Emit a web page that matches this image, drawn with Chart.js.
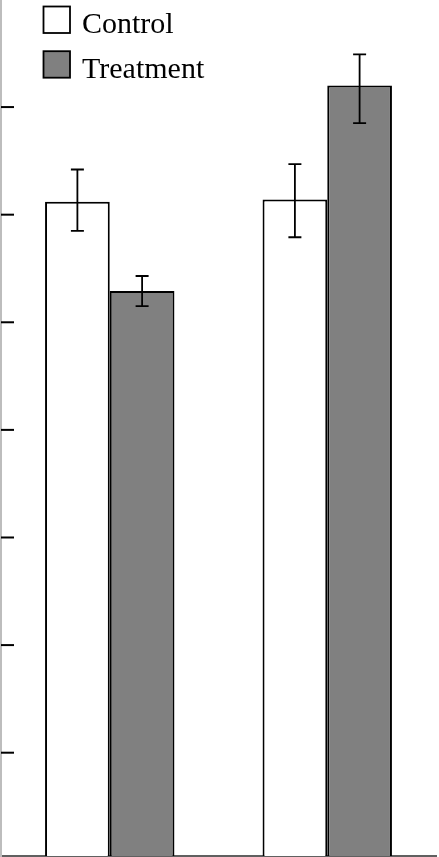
<!DOCTYPE html>
<html>
<head>
<meta charset="utf-8">
<script src="https://cdn.jsdelivr.net/npm/chart.js@4.4.1/dist/chart.umd.min.js"></script>
<style>
  html, body { margin: 0; padding: 0; background: #fff; overflow: hidden; }
  #wrap { position: relative; width: 439px; height: 857px; }
</style>
</head>
<body>
<div id="wrap"><canvas id="chart"></canvas></div>
<script>
// values
const groups = ['Group 1', 'Group 2'];
const seriesNames = ['Control', 'Treatment'];
const controlMeans = [6.12, 6.14];
const controlLow = [5.85, 5.79];
const controlHigh = [6.42, 6.47];
const treatmentMeans = [5.29, 7.20];
const treatmentLow = [5.15, 6.85];
const treatmentHigh = [5.43, 7.49];

const errorBars = [
  { low: controlLow, high: controlHigh },
  { low: treatmentLow, high: treatmentHigh },
];

// error bars with small caps, drawn through the y scale
const errorBarPlugin = {
  id: 'errorBars',
  afterDatasetsDraw: (ch) => {
    const { ctx } = ch;
    const yScale = ch.scales.y;
    ctx.save();
    ctx.strokeStyle = '#000';
    ctx.lineWidth = 1.8;
    ch.data.datasets.forEach((ds, di) => {
      const meta = ch.getDatasetMeta(di);
      meta.data.forEach((bar, i) => {
        const yLo = yScale.getPixelForValue(errorBars[di].low[i]);
        const yHi = yScale.getPixelForValue(errorBars[di].high[i]);
        const cap = 6.5;
        ctx.beginPath();
        ctx.moveTo(bar.x, yLo);
        ctx.lineTo(bar.x, yHi);
        ctx.moveTo(bar.x - cap, yLo);
        ctx.lineTo(bar.x + cap, yLo);
        ctx.moveTo(bar.x - cap, yHi);
        ctx.lineTo(bar.x + cap, yHi);
        ctx.stroke();
      });
    });
    ctx.restore();
  },
};

// inward tick marks on the left axis
const innerTicksPlugin = {
  id: 'innerTicks',
  afterDraw: (ch) => {
    const { ctx, chartArea } = ch;
    const yScale = ch.scales.y;
    ctx.save();
    ctx.strokeStyle = '#000';
    ctx.lineWidth = 2;
    yScale.ticks.forEach((t) => {
      const y = yScale.getPixelForValue(t.value);
      if (y < chartArea.top + 2 || y > chartArea.bottom - 2) return;
      ctx.beginPath();
      ctx.moveTo(chartArea.left, y);
      ctx.lineTo(chartArea.left + 13, y);
      ctx.stroke();
    });
    ctx.restore();
  },
};

// vertical legend in the top-left corner
const boxLegendPlugin = {
  id: 'boxLegend',
  afterDraw: (ch) => {
    const { ctx } = ch;
    ctx.save();
    ctx.font = '30px "Liberation Serif", "Times New Roman", serif';
    ctx.textBaseline = 'alphabetic';
    ch.data.datasets.forEach((ds, i) => {
      const top = 6.5 + i * 44.7;
      ctx.fillStyle = ds.backgroundColor;
      ctx.fillRect(43.5, top, 26.5, 26.5);
      ctx.strokeStyle = '#000';
      ctx.lineWidth = 1.8;
      ctx.strokeRect(43.5, top, 26.5, 26.5);
      ctx.fillStyle = '#000';
      ctx.fillText(ds.label, 82, top + 26.8);
    });
    ctx.restore();
  },
};

// eslint-disable-next-line no-undef
const chart = new Chart(document.getElementById('chart'), {
  type: 'bar',
  data: {
    labels: groups,
    datasets: [{
      label: seriesNames[0],
      backgroundColor: '#ffffff',
      borderColor: '#000',
      borderWidth: 2,
      data: controlMeans,
    },
    {
      label: seriesNames[1],
      backgroundColor: '#808080',
      borderColor: '#000',
      borderWidth: 2,
      data: treatmentMeans,
    }],
  },
  plugins: [errorBarPlugin, innerTicksPlugin, boxLegendPlugin],
  options: {
    responsive: true,
    maintainAspectRatio: false,
    animation: false,
    layout: {
      padding: { left: 1, right: 3, top: 0, bottom: 1 },
    },
    plugins: {
      legend: { display: false },
      tooltip: { enabled: false },
    },
    datasets: {
      bar: {
        barPercentage: 1,
        categoryPercentage: 0.595,
      },
    },
    scales: {
      x: {
        display: true,
        grid: { display: false, drawTicks: false },
        border: { display: true, color: '#606060', width: 2 },
        ticks: { display: false },
      },
      y: {
        min: 0.04,
        max: 7.995,
        grid: { display: false, drawTicks: false },
        border: { display: true, color: '#bdbdbd', width: 2 },
        ticks: { display: false, stepSize: 1, includeBounds: false },
      },
    },
  },
});
</script>
</body>
</html>
